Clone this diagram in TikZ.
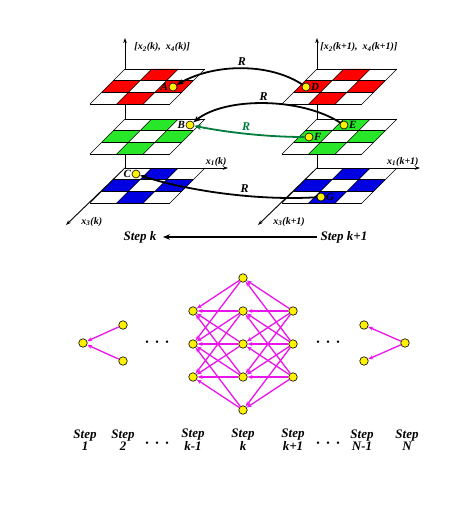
\documentclass[tikz,border=0pt]{standalone}
\usepackage{fontspec}
\setmainfont{Liberation Serif}
\usetikzlibrary{arrows.meta}
\definecolor{cellred}{RGB}{255,0,0}
\definecolor{cellgreen}{RGB}{40,230,40}
\definecolor{cellblue}{RGB}{0,0,225}
\definecolor{mapgreen}{RGB}{0,125,60}
\definecolor{arcmag}{RGB}{235,20,235}

\begin{document}
\begin{tikzpicture}[x=1pt, y=-1pt, font=\bfseries\itshape,
    pt/.style={circle, draw, fill=yellow, inner sep=0pt, minimum size=8pt, line width=0.6pt},
    ptname/.style={font=\fontsize{11}{11}\selectfont\bfseries\itshape, inner sep=0.5pt},
    axis/.style={-{Stealth[length=5pt,width=3.5pt]}, line width=0.9pt},
    rmap/.style={-{Stealth[length=7pt,width=5.5pt]}, line width=1.8pt},
    rlabel/.style={font=\fontsize{12}{12}\selectfont\bfseries\itshape, inner sep=2pt},
    axlabel/.style={font=\fontsize{10}{10}\selectfont\bfseries\itshape, inner sep=1pt},
    steplabel/.style={font=\fontsize{13}{13}\selectfont\bfseries\itshape},
    stepname/.style={font=\fontsize{13}{10.5}\selectfont\bfseries\itshape, align=center},
    vtx/.style={circle, draw, fill=yellow, inner sep=0pt, minimum size=8.5pt, line width=0.6pt},
    edge/.style={arcmag, line width=1.3pt, -{Stealth[length=5pt,width=4pt]}},
    dots/.style={font=\fontsize{10}{10}\selectfont}]

    \useasboundingbox (0,0) rectangle (474,516);

    % axes of step k and step k+1
    \coordinate (O1) at (125,168);
    \coordinate (O2) at (317,168);
    \draw[axis] (O1) --++(0,-130) node[axlabel, right, pos=0.93, xshift=8pt] {[\textit{x}\textsubscript{2}(\textit{k}),~ \textit{x}\textsubscript{4}(\textit{k})]};
    \draw[axis] (O1) --++(103,0) node[axlabel, above left] {\textit{x}\textsubscript{1}(\textit{k})};
    \draw[axis] (O1) --++(-59,57) node[axlabel, right, xshift=14pt, yshift=3pt] {\textit{x}\textsubscript{3}(\textit{k})};
    \draw[axis] (O2) --++(0,-130) node[axlabel, right, pos=0.93, xshift=2pt] {[\textit{x}\textsubscript{2}(\textit{k+1}),~ \textit{x}\textsubscript{4}(\textit{k+1})]};
    \draw[axis] (O2) --++(103,0) node[axlabel, above left] {\textit{x}\textsubscript{1}(\textit{k+1})};
    \draw[axis] (O2) --++(-59,57) node[axlabel, right, xshift=14pt, yshift=3pt] {\textit{x}\textsubscript{3}(\textit{k+1})};

    \foreach \px/\py/\col in {125/69/cellred, 125/119/cellgreen, 125/168/cellblue,
                              317/69/cellred, 317/119/cellgreen, 317/168/cellblue}{
      \begin{scope}[shift={(\px,\py)}, xslant=1]
        \fill[white] (0,0) rectangle (80,35);
        \foreach \i/\j in {1/0, 0/1, 2/1, 1/2}
          \fill[\col] (\i*80/3,\j*35/3) rectangle ++(80/3,35/3);
        \foreach \i in {0,...,3}
          \draw[line width=0.5pt] (\i*80/3,0) -- (\i*80/3,35);
        \foreach \j in {0,...,3}
          \draw[line width=0.5pt] (0,\j*35/3) -- (80,\j*35/3);
      \end{scope}
    }

    \node[pt, label={[ptname]left:A}]  (A) at (173,87) {};
    \node[pt, label={[ptname]right:D}] (D) at (306,87) {};
    \node[pt, label={[ptname]left:B}]  (B) at (190,125) {};
    \node[pt, label={[ptname]right:E}] (E) at (344,125) {};
    \node[pt, label={[ptname]right:F}] (F) at (309,137) {};
    \node[pt, label={[ptname]left:C}]  (C) at (136,174) {};
    \node[pt, label={[ptname]right:G}] (G) at (321,197) {};

    \draw[rmap] (D) .. controls (270,63) and (215,63) .. (A) node[rlabel, pos=.5, above] {R};
    \draw[rmap] (E) .. controls (300,97) and (225,97) .. (B) node[rlabel, pos=.5, above] {R};
    \draw[rmap, mapgreen] (F) .. controls (265,137) and (225,132) .. (B) node[rlabel, pos=.5, above] {R};
    \draw[rmap] (G) .. controls (255,201) and (185,190) .. (C) node[rlabel, pos=.38, above] {R};

    \node[steplabel] (sk) at (140,237) {Step k};
    \node[steplabel] (sk1) at (344,237) {Step k+1};
    \draw[rmap, shorten >=3pt] (sk1) -- (sk);

    % trellis of the steps
    \node[vtx] (s1) at (83,343) {};
    \node[vtx] (s2a) at (123,325) {};
    \node[vtx] (s2b) at (123,361) {};
    \node[vtx] (sNa) at (364,325) {};
    \node[vtx] (sNb) at (364,361) {};
    \node[vtx] (sN) at (405,343) {};
    \foreach \j in {1,2,3} {
      \node[vtx] (km\j) at (193,278+33*\j) {};
      \node[vtx] (kp\j) at (293,278+33*\j) {};
    }
    \foreach \i in {0,...,4}
      \node[vtx] (k\i) at (243,278+33*\i) {};

    \draw[edge] (s2a) -- (s1);
    \draw[edge] (s2b) -- (s1);
    \draw[edge] (sN) -- (sNa);
    \draw[edge] (sN) -- (sNb);
    \foreach \i in {0,...,4}
      \foreach \j in {1,2,3} {
        \pgfmathtruncatemacro\d{abs(\i-\j)}
        \ifnum\d<3
          \draw[edge] (k\i) -- (km\j);
          \draw[edge] (kp\j) -- (k\i);
        \fi
      }

    \node[dots] (dl) at (157,343) {\textbullet\hspace{6.5pt}\textbullet\hspace{6.5pt}\textbullet};
    \node[dots] (dr) at (328,343) {\textbullet\hspace{6.5pt}\textbullet\hspace{6.5pt}\textbullet};

    \foreach \x/\t in {85/1, 123/2, 193/k-1, 243/k, 293/k+1, 362/N-1, 407/N}
      \node[stepname] (n\t) at (\x,440) {Step\\\t};
    \node[dots] (dbl) at (157,444) {\textbullet\hspace{6.5pt}\textbullet\hspace{6.5pt}\textbullet};
    \node[dots] (dbr) at (328,444) {\textbullet\hspace{6.5pt}\textbullet\hspace{6.5pt}\textbullet};
    %
\end{tikzpicture}
\end{document}
